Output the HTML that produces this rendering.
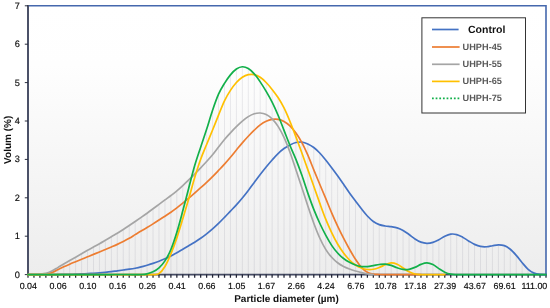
<!DOCTYPE html>
<html><head><meta charset="utf-8"><title>Particle size distribution</title>
<style>
html,body{margin:0;padding:0;background:#fff;}
body{width:550px;height:308px;overflow:hidden;}
svg{display:block;font-family:"Liberation Sans",Arial,sans-serif;text-rendering:geometricPrecision;}
.tk{font-size:8.9px;fill:#0a0a0a;stroke:#0a0a0a;stroke-width:0.15px;}
.lg{font-size:9.2px;font-weight:bold;fill:#595959;}
.ttl{font-size:10px;font-weight:bold;fill:#111;}
</style></head><body>
<svg width="550" height="308" viewBox="0 0 550 308">
<defs><linearGradient id="bg" x1="0" y1="0" x2="0" y2="1"><stop offset="0" stop-color="#ffffff"/><stop offset="0.22" stop-color="#fefefe"/><stop offset="1" stop-color="#ededed"/></linearGradient></defs>
<rect x="0" y="0" width="550" height="308" fill="#ffffff"/>
<rect x="28.0" y="5.8" width="518.0" height="268.8" fill="url(#bg)"/>
<path d="M45.86,273.34V274.60M51.82,271.02V274.60M57.77,267.62V274.60M63.72,264.03V274.60M69.68,260.59V274.60M75.63,257.18V274.60M81.59,253.71V274.60M87.54,250.31V274.60M93.49,247.01V274.60M99.45,243.68V274.60M105.40,240.19V274.60M111.36,236.65V274.60M117.31,233.15V274.60M123.26,229.42V274.60M129.22,225.50V274.60M135.17,221.50V274.60M141.13,217.41V274.60M147.08,213.19V274.60M153.03,208.79V274.60M158.99,204.32V274.60M164.94,199.91V274.60M170.90,195.52V274.60M176.85,190.84V274.60M182.80,185.53V274.60M188.76,179.92V274.60M194.71,165.58V274.60M200.67,147.16V274.60M206.62,129.28V274.60M212.57,110.26V274.60M218.53,94.17V274.60M224.48,83.40V274.60M230.44,74.91V274.60M236.39,69.07V274.60M242.34,66.76V274.60M248.30,68.54V274.60M254.25,73.86V274.60M260.21,77.33V274.60M266.16,82.50V274.60M272.11,89.41V274.60M278.07,97.58V274.60M284.02,107.96V274.60M289.98,121.48V274.60M295.93,133.10V274.60M301.89,142.08V274.60M307.84,143.90V274.60M313.79,147.48V274.60M319.75,152.99V274.60M325.70,159.98V274.60M331.66,167.69V274.60M337.61,175.77V274.60M343.56,184.34V274.60M349.52,193.07V274.60M355.47,200.97V274.60M361.43,208.78V274.60M367.38,215.98V274.60M373.33,221.45V274.60M379.29,224.65V274.60M385.24,226.02V274.60M391.20,226.69V274.60M397.15,227.86V274.60M403.10,230.46V274.60M409.06,234.53V274.60M415.01,238.95V274.60M420.97,242.15V274.60M426.92,243.29V274.60M432.87,242.38V274.60M438.83,239.69V274.60M444.78,236.21V274.60M450.74,234.14V274.60M456.69,234.56V274.60M462.64,237.19V274.60M468.60,240.90V274.60M474.55,244.36V274.60M480.51,246.45V274.60M486.46,246.76V274.60M492.41,245.77V274.60M498.37,244.84V274.60M504.32,245.67V274.60M510.28,249.25V274.60M516.23,255.34V274.60M522.18,262.71V274.60M528.14,269.27V274.60M534.09,273.13V274.60" stroke="#50506a" stroke-opacity="0.11" stroke-width="1" fill="none"/>
<path d="M27.0,5.8H546.0V274.6" stroke="#4568ad" stroke-width="1.6" fill="none"/>
<path d="M28.0,5.0V275.5" stroke="#4b5168" stroke-width="2" fill="none"/>
<path d="M27.0,274.6H546.8" stroke="#454b63" stroke-width="1.8" fill="none"/>
<path d="M28.00,274.6v3.2M33.95,274.6v3.2M39.91,274.6v3.2M45.86,274.6v3.2M51.82,274.6v3.2M57.77,274.6v3.2M63.72,274.6v3.2M69.68,274.6v3.2M75.63,274.6v3.2M81.59,274.6v3.2M87.54,274.6v3.2M93.49,274.6v3.2M99.45,274.6v3.2M105.40,274.6v3.2M111.36,274.6v3.2M117.31,274.6v3.2M123.26,274.6v3.2M129.22,274.6v3.2M135.17,274.6v3.2M141.13,274.6v3.2M147.08,274.6v3.2M153.03,274.6v3.2M158.99,274.6v3.2M164.94,274.6v3.2M170.90,274.6v3.2M176.85,274.6v3.2M182.80,274.6v3.2M188.76,274.6v3.2M194.71,274.6v3.2M200.67,274.6v3.2M206.62,274.6v3.2M212.57,274.6v3.2M218.53,274.6v3.2M224.48,274.6v3.2M230.44,274.6v3.2M236.39,274.6v3.2M242.34,274.6v3.2M248.30,274.6v3.2M254.25,274.6v3.2M260.21,274.6v3.2M266.16,274.6v3.2M272.11,274.6v3.2M278.07,274.6v3.2M284.02,274.6v3.2M289.98,274.6v3.2M295.93,274.6v3.2M301.89,274.6v3.2M307.84,274.6v3.2M313.79,274.6v3.2M319.75,274.6v3.2M325.70,274.6v3.2M331.66,274.6v3.2M337.61,274.6v3.2M343.56,274.6v3.2M349.52,274.6v3.2M355.47,274.6v3.2M361.43,274.6v3.2M367.38,274.6v3.2M373.33,274.6v3.2M379.29,274.6v3.2M385.24,274.6v3.2M391.20,274.6v3.2M397.15,274.6v3.2M403.10,274.6v3.2M409.06,274.6v3.2M415.01,274.6v3.2M420.97,274.6v3.2M426.92,274.6v3.2M432.87,274.6v3.2M438.83,274.6v3.2M444.78,274.6v3.2M450.74,274.6v3.2M456.69,274.6v3.2M462.64,274.6v3.2M468.60,274.6v3.2M474.55,274.6v3.2M480.51,274.6v3.2M486.46,274.6v3.2M492.41,274.6v3.2M498.37,274.6v3.2M504.32,274.6v3.2M510.28,274.6v3.2M516.23,274.6v3.2M522.18,274.6v3.2M528.14,274.6v3.2M534.09,274.6v3.2M540.05,274.6v3.2M546.00,274.6v3.2" stroke="#1f2233" stroke-width="1.25" fill="none"/>
<path d="M24.8,274.60h3.2M24.8,236.20h3.2M24.8,197.80h3.2M24.8,159.40h3.2M24.8,121.00h3.2M24.8,82.60h3.2M24.8,44.20h3.2M24.8,5.80h3.2" stroke="#2b2f3f" stroke-width="1" fill="none"/>
<path d="M28.00,274.60C28.99,274.60 31.97,274.60 33.95,274.60C35.94,274.60 37.92,274.60 39.91,274.60C41.89,274.60 43.88,274.60 45.86,274.60C47.85,274.60 49.83,274.60 51.82,274.60C53.80,274.60 55.79,274.60 57.77,274.57C59.75,274.54 61.74,274.47 63.72,274.42C65.71,274.38 67.69,274.35 69.68,274.31C71.66,274.26 73.65,274.24 75.63,274.18C77.62,274.11 79.60,274.01 81.59,273.91C83.57,273.82 85.56,273.70 87.54,273.59C89.52,273.49 91.51,273.39 93.49,273.27C95.48,273.15 97.46,273.03 99.45,272.87C101.43,272.72 103.42,272.53 105.40,272.33C107.39,272.13 109.37,271.91 111.36,271.66C113.34,271.41 115.33,271.10 117.31,270.83C119.30,270.55 121.28,270.28 123.26,270.01C125.25,269.73 127.23,269.49 129.22,269.19C131.20,268.89 133.19,268.59 135.17,268.22C137.16,267.85 139.14,267.44 141.13,266.95C143.11,266.45 145.10,265.84 147.08,265.25C149.07,264.65 151.05,264.05 153.03,263.39C155.02,262.73 157.00,262.05 158.99,261.29C160.97,260.53 162.96,259.69 164.94,258.81C166.93,257.93 168.91,256.99 170.90,255.99C172.88,254.99 174.87,253.90 176.85,252.79C178.84,251.68 180.82,250.48 182.80,249.32C184.79,248.16 186.77,246.99 188.76,245.81C190.74,244.62 192.73,243.46 194.71,242.21C196.70,240.95 198.68,239.67 200.67,238.27C202.65,236.88 204.64,235.39 206.62,233.82C208.61,232.26 210.59,230.62 212.57,228.88C214.56,227.15 216.54,225.32 218.53,223.40C220.51,221.48 222.50,219.41 224.48,217.36C226.47,215.32 228.45,213.19 230.44,211.11C232.42,209.04 234.41,207.08 236.39,204.90C238.38,202.72 240.36,200.43 242.34,198.03C244.33,195.62 246.31,193.06 248.30,190.47C250.28,187.89 252.27,185.16 254.25,182.50C256.24,179.84 258.22,177.11 260.21,174.53C262.19,171.94 264.18,169.43 266.16,167.00C268.15,164.57 270.13,162.19 272.11,159.95C274.10,157.71 276.08,155.46 278.07,153.55C280.05,151.65 282.04,149.96 284.02,148.53C286.01,147.09 287.99,145.92 289.98,144.92C291.96,143.92 293.95,143.00 295.93,142.53C297.92,142.05 299.90,141.85 301.89,142.08C303.87,142.31 305.85,143.00 307.84,143.90C309.82,144.80 311.81,145.97 313.79,147.48C315.78,149.00 317.76,150.91 319.75,152.99C321.73,155.08 323.72,157.53 325.70,159.98C327.69,162.43 329.67,165.06 331.66,167.69C333.64,170.32 335.62,173.00 337.61,175.77C339.59,178.55 341.58,181.46 343.56,184.34C345.55,187.22 347.53,190.30 349.52,193.07C351.50,195.85 353.49,198.36 355.47,200.97C357.46,203.59 359.44,206.28 361.43,208.78C363.41,211.28 365.39,213.87 367.38,215.98C369.36,218.10 371.35,220.00 373.33,221.45C375.32,222.89 377.30,223.89 379.29,224.65C381.27,225.41 383.26,225.68 385.24,226.02C387.23,226.36 389.21,226.39 391.20,226.69C393.18,227.00 395.16,227.23 397.15,227.86C399.13,228.48 401.12,229.34 403.10,230.46C405.09,231.57 407.07,233.11 409.06,234.53C411.04,235.95 413.03,237.68 415.01,238.95C417.00,240.22 418.98,241.43 420.97,242.15C422.95,242.88 424.93,243.25 426.92,243.29C428.90,243.33 430.89,242.99 432.87,242.38C434.86,241.78 436.84,240.72 438.83,239.69C440.81,238.66 442.80,237.13 444.78,236.21C446.77,235.28 448.75,234.42 450.74,234.14C452.72,233.87 454.70,234.05 456.69,234.56C458.67,235.07 460.66,236.14 462.64,237.19C464.63,238.25 466.61,239.71 468.60,240.90C470.58,242.09 472.57,243.43 474.55,244.36C476.54,245.28 478.52,246.05 480.51,246.45C482.49,246.85 484.48,246.87 486.46,246.76C488.44,246.65 490.43,246.09 492.41,245.77C494.40,245.45 496.38,244.86 498.37,244.84C500.35,244.82 502.34,244.93 504.32,245.67C506.31,246.40 508.29,247.63 510.28,249.25C512.26,250.86 514.25,253.10 516.23,255.34C518.21,257.59 520.20,260.39 522.18,262.71C524.17,265.03 526.15,267.53 528.14,269.27C530.12,271.01 532.11,272.27 534.09,273.13C536.08,273.99 538.06,274.20 540.05,274.44C542.03,274.69 545.01,274.57 546.00,274.60" stroke="#4472C4" stroke-width="1.7" fill="none" stroke-linejoin="round" stroke-linecap="round"/>
<path d="M28.00,274.60C28.99,274.60 31.97,274.60 33.95,274.60C35.94,274.60 37.92,274.66 39.91,274.60C41.89,274.54 43.88,274.58 45.86,274.23C47.85,273.89 49.83,273.30 51.82,272.55C53.80,271.80 55.79,270.70 57.77,269.75C59.75,268.79 61.74,267.75 63.72,266.83C65.71,265.90 67.69,265.04 69.68,264.19C71.66,263.34 73.65,262.53 75.63,261.71C77.62,260.89 79.60,260.10 81.59,259.28C83.57,258.46 85.56,257.63 87.54,256.82C89.52,256.00 91.51,255.20 93.49,254.40C95.48,253.60 97.46,252.80 99.45,251.99C101.43,251.17 103.42,250.34 105.40,249.51C107.39,248.68 109.37,247.86 111.36,247.01C113.34,246.15 115.33,245.30 117.31,244.38C119.30,243.47 121.28,242.54 123.26,241.53C125.25,240.52 127.23,239.47 129.22,238.33C131.20,237.18 133.19,235.87 135.17,234.65C137.16,233.43 139.14,232.20 141.13,231.01C143.11,229.81 145.10,228.69 147.08,227.50C149.07,226.31 151.05,225.11 153.03,223.87C155.02,222.63 157.00,221.32 158.99,220.04C160.97,218.76 162.96,217.50 164.94,216.19C166.93,214.89 168.91,213.58 170.90,212.18C172.88,210.78 174.87,209.32 176.85,207.82C178.84,206.32 180.82,204.78 182.80,203.18C184.79,201.58 186.77,199.90 188.76,198.21C190.74,196.51 192.73,194.75 194.71,193.00C196.70,191.25 198.68,189.50 200.67,187.73C202.65,185.96 204.64,184.23 206.62,182.37C208.61,180.51 210.59,178.57 212.57,176.58C214.56,174.60 216.54,172.53 218.53,170.46C220.51,168.38 222.50,166.34 224.48,164.15C226.47,161.95 228.45,159.65 230.44,157.29C232.42,154.93 234.41,152.40 236.39,149.99C238.38,147.59 240.36,145.13 242.34,142.84C244.33,140.56 246.31,138.39 248.30,136.29C250.28,134.19 252.27,132.13 254.25,130.23C256.24,128.33 258.22,126.37 260.21,124.87C262.19,123.37 264.18,122.13 266.16,121.22C268.15,120.31 270.13,119.74 272.11,119.43C274.10,119.12 276.08,119.04 278.07,119.37C280.05,119.70 282.04,120.32 284.02,121.41C286.01,122.49 287.99,123.92 289.98,125.87C291.96,127.82 293.95,130.32 295.93,133.10C297.92,135.88 299.90,138.88 301.89,142.55C303.87,146.23 305.85,150.58 307.84,155.13C309.82,159.68 311.81,165.02 313.79,169.87C315.78,174.72 317.76,179.46 319.75,184.22C321.73,188.98 323.72,193.68 325.70,198.45C327.69,203.22 329.67,208.23 331.66,212.84C333.64,217.44 335.62,221.85 337.61,226.07C339.59,230.29 341.58,234.30 343.56,238.16C345.55,242.03 347.53,245.75 349.52,249.27C351.50,252.79 353.49,256.29 355.47,259.30C357.46,262.31 359.44,265.20 361.43,267.36C363.41,269.52 365.39,271.15 367.38,272.27C369.36,273.39 371.35,273.71 373.33,274.08C375.32,274.46 377.30,274.43 379.29,274.52C381.27,274.61 383.26,274.59 385.24,274.60C387.23,274.61 389.21,274.60 391.20,274.60C393.18,274.60 395.16,274.60 397.15,274.60C399.13,274.60 401.12,274.60 403.10,274.60C405.09,274.60 407.07,274.60 409.06,274.60C411.04,274.60 413.03,274.60 415.01,274.60C417.00,274.60 419.97,274.60 420.97,274.60" stroke="#ED7D31" stroke-width="1.7" fill="none" stroke-linejoin="round" stroke-linecap="round"/>
<path d="M28.00,274.60C28.99,274.58 31.97,274.54 33.95,274.46C35.94,274.38 37.92,274.31 39.91,274.12C41.89,273.94 43.88,273.86 45.86,273.34C47.85,272.82 49.83,271.97 51.82,271.02C53.80,270.07 55.79,268.78 57.77,267.62C59.75,266.45 61.74,265.20 63.72,264.03C65.71,262.86 67.69,261.74 69.68,260.59C71.66,259.45 73.65,258.33 75.63,257.18C77.62,256.04 79.60,254.86 81.59,253.71C83.57,252.56 85.56,251.42 87.54,250.31C89.52,249.19 91.51,248.11 93.49,247.01C95.48,245.90 97.46,244.82 99.45,243.68C101.43,242.55 103.42,241.36 105.40,240.19C107.39,239.02 109.37,237.82 111.36,236.65C113.34,235.47 115.33,234.36 117.31,233.15C119.30,231.95 121.28,230.69 123.26,229.42C125.25,228.14 127.23,226.82 129.22,225.50C131.20,224.18 133.19,222.85 135.17,221.50C137.16,220.15 139.14,218.79 141.13,217.41C143.11,216.02 145.10,214.62 147.08,213.19C149.07,211.75 151.05,210.27 153.03,208.79C155.02,207.32 157.00,205.80 158.99,204.32C160.97,202.83 162.96,201.37 164.94,199.91C166.93,198.44 168.91,197.03 170.90,195.52C172.88,194.01 174.87,192.50 176.85,190.84C178.84,189.17 180.82,187.35 182.80,185.53C184.79,183.71 186.77,181.83 188.76,179.92C190.74,178.00 192.73,176.08 194.71,174.06C196.70,172.05 198.68,169.93 200.67,167.83C202.65,165.72 204.64,163.64 206.62,161.45C208.61,159.26 210.59,157.09 212.57,154.68C214.56,152.27 216.54,149.55 218.53,147.01C220.51,144.46 222.50,141.79 224.48,139.42C226.47,137.06 228.45,134.93 230.44,132.80C232.42,130.67 234.41,128.59 236.39,126.65C238.38,124.70 240.36,122.81 242.34,121.14C244.33,119.48 246.31,117.87 248.30,116.64C250.28,115.42 252.27,114.39 254.25,113.79C256.24,113.19 258.22,112.89 260.21,113.02C262.19,113.14 264.18,113.59 266.16,114.55C268.15,115.51 270.13,116.81 272.11,118.78C274.10,120.74 276.08,123.25 278.07,126.35C280.05,129.45 282.04,133.05 284.02,137.36C286.01,141.66 287.99,146.77 289.98,152.17C291.96,157.56 293.95,163.81 295.93,169.73C297.92,175.65 299.90,181.66 301.89,187.70C303.87,193.73 305.85,200.02 307.84,205.94C309.82,211.85 311.81,217.85 313.79,223.19C315.78,228.53 317.76,233.61 319.75,237.98C321.73,242.35 323.72,246.17 325.70,249.39C327.69,252.60 329.67,255.05 331.66,257.28C333.64,259.51 335.62,261.24 337.61,262.77C339.59,264.31 341.58,265.46 343.56,266.50C345.55,267.54 347.53,268.28 349.52,269.03C351.50,269.78 353.49,270.41 355.47,271.01C357.46,271.60 359.44,272.13 361.43,272.60C363.41,273.07 365.39,273.50 367.38,273.82C369.36,274.14 372.34,274.42 373.33,274.54" stroke="#A5A5A5" stroke-width="1.7" fill="none" stroke-linejoin="round" stroke-linecap="round"/>
<path d="M28.00,274.60C28.99,274.60 31.97,274.60 33.95,274.60C35.94,274.60 37.92,274.60 39.91,274.60C41.89,274.60 43.88,274.60 45.86,274.60C47.85,274.60 49.83,274.60 51.82,274.60C53.80,274.60 55.79,274.60 57.77,274.60C59.75,274.60 61.74,274.60 63.72,274.60C65.71,274.60 67.69,274.60 69.68,274.60C71.66,274.60 73.65,274.60 75.63,274.60C77.62,274.60 79.60,274.60 81.59,274.60C83.57,274.60 85.56,274.60 87.54,274.60C89.52,274.60 91.51,274.60 93.49,274.60C95.48,274.60 97.46,274.60 99.45,274.60C101.43,274.60 103.42,274.60 105.40,274.60C107.39,274.60 109.37,274.60 111.36,274.60C113.34,274.60 115.33,274.60 117.31,274.60C119.30,274.60 121.28,274.60 123.26,274.60C125.25,274.60 127.23,274.60 129.22,274.60C131.20,274.60 133.19,274.60 135.17,274.60C137.16,274.60 139.14,274.60 141.13,274.60C143.11,274.60 145.10,274.60 147.08,274.60C149.07,274.60 151.05,274.76 153.03,274.60C155.02,274.44 157.00,274.97 158.99,273.62C160.97,272.27 162.96,269.78 164.94,266.49C166.93,263.20 168.91,258.66 170.90,253.89C172.88,249.13 174.87,243.74 176.85,237.89C178.84,232.04 180.82,225.32 182.80,218.78C184.79,212.25 186.77,205.53 188.76,198.66C190.74,191.79 192.73,184.10 194.71,177.53C196.70,170.97 198.68,164.76 200.67,159.25C202.65,153.75 204.64,149.37 206.62,144.50C208.61,139.63 210.59,134.94 212.57,130.03C214.56,125.13 216.54,119.96 218.53,115.08C220.51,110.21 222.50,104.91 224.48,100.79C226.47,96.66 228.45,93.39 230.44,90.34C232.42,87.29 234.41,84.66 236.39,82.47C238.38,80.29 240.36,78.53 242.34,77.22C244.33,75.91 246.31,75.06 248.30,74.62C250.28,74.19 252.27,74.16 254.25,74.61C256.24,75.06 258.22,76.01 260.21,77.33C262.19,78.64 264.18,80.49 266.16,82.50C268.15,84.51 270.13,86.90 272.11,89.41C274.10,91.93 276.08,94.49 278.07,97.58C280.05,100.67 282.04,103.98 284.02,107.96C286.01,111.94 287.99,116.65 289.98,121.48C291.96,126.31 293.95,131.66 295.93,136.92C297.92,142.19 299.90,147.61 301.89,153.06C303.87,158.51 305.85,164.09 307.84,169.63C309.82,175.16 311.81,180.67 313.79,186.26C315.78,191.84 317.76,197.66 319.75,203.14C321.73,208.63 323.72,214.28 325.70,219.18C327.69,224.08 329.67,228.42 331.66,232.56C333.64,236.70 335.62,240.60 337.61,244.02C339.59,247.44 341.58,250.42 343.56,253.08C345.55,255.74 347.53,258.01 349.52,259.99C351.50,261.97 353.49,263.63 355.47,264.97C357.46,266.32 359.44,267.28 361.43,268.04C363.41,268.79 365.39,269.28 367.38,269.48C369.36,269.69 371.35,269.60 373.33,269.26C375.32,268.93 377.30,268.23 379.29,267.48C381.27,266.73 383.26,265.54 385.24,264.79C387.23,264.03 389.21,263.04 391.20,262.96C393.18,262.88 395.16,263.46 397.15,264.31C399.13,265.15 401.12,266.77 403.10,268.03C405.09,269.28 407.07,270.86 409.06,271.85C411.04,272.84 413.03,273.53 415.01,273.99C417.00,274.45 418.98,274.50 420.97,274.60C422.95,274.70 424.93,274.60 426.92,274.60C428.90,274.60 430.89,274.60 432.87,274.60C434.86,274.60 436.84,274.60 438.83,274.60C440.81,274.60 443.79,274.60 444.78,274.60" stroke="#FFC000" stroke-width="1.7" fill="none" stroke-linejoin="round" stroke-linecap="round"/>
<path d="M28.00,274.60C28.99,274.60 31.97,274.60 33.95,274.60C35.94,274.59 37.92,274.59 39.91,274.59C41.89,274.59 43.88,274.59 45.86,274.58C47.85,274.58 49.83,274.58 51.82,274.58C53.80,274.58 55.79,274.58 57.77,274.57C59.75,274.57 61.74,274.57 63.72,274.57C65.71,274.57 67.69,274.56 69.68,274.56C71.66,274.56 73.65,274.56 75.63,274.56C77.62,274.56 79.60,274.55 81.59,274.55C83.57,274.55 85.56,274.55 87.54,274.55C89.52,274.55 91.51,274.54 93.49,274.54C95.48,274.54 97.46,274.54 99.45,274.54C101.43,274.54 103.42,274.53 105.40,274.53C107.39,274.53 109.37,274.53 111.36,274.53C113.34,274.52 115.33,274.52 117.31,274.52C119.30,274.52 121.28,274.52 123.26,274.52C125.25,274.51 127.23,274.51 129.22,274.51C131.20,274.51 133.19,274.54 135.17,274.54C137.16,274.54 139.14,274.62 141.13,274.50C143.11,274.37 145.10,274.24 147.08,273.80C149.07,273.36 151.05,272.82 153.03,271.84C155.02,270.85 157.00,269.70 158.99,267.87C160.97,266.05 162.96,263.93 164.94,260.87C166.93,257.81 168.91,254.28 170.90,249.53C172.88,244.77 174.87,238.77 176.85,232.32C178.84,225.87 180.82,218.22 182.80,210.83C184.79,203.45 186.77,195.54 188.76,188.00C190.74,180.45 192.73,172.39 194.71,165.58C196.70,158.78 198.68,153.21 200.67,147.16C202.65,141.11 204.64,135.43 206.62,129.28C208.61,123.13 210.59,116.11 212.57,110.26C214.56,104.41 216.54,98.64 218.53,94.17C220.51,89.69 222.50,86.61 224.48,83.40C226.47,80.19 228.45,77.29 230.44,74.91C232.42,72.52 234.41,70.43 236.39,69.07C238.38,67.71 240.36,66.85 242.34,66.76C244.33,66.67 246.31,67.36 248.30,68.54C250.28,69.73 252.27,71.64 254.25,73.86C256.24,76.08 258.22,78.94 260.21,81.86C262.19,84.78 264.18,88.00 266.16,91.38C268.15,94.76 270.13,98.16 272.11,102.13C274.10,106.11 276.08,110.51 278.07,115.23C280.05,119.94 282.04,125.35 284.02,130.40C286.01,135.45 287.99,140.70 289.98,145.53C291.96,150.35 293.95,154.40 295.93,159.37C297.92,164.34 299.90,169.71 301.89,175.33C303.87,180.96 305.85,187.43 307.84,193.11C309.82,198.79 311.81,204.37 313.79,209.39C315.78,214.41 317.76,218.96 319.75,223.25C321.73,227.54 323.72,231.46 325.70,235.14C327.69,238.83 329.67,242.37 331.66,245.36C333.64,248.34 335.62,250.85 337.61,253.04C339.59,255.22 341.58,256.94 343.56,258.48C345.55,260.03 347.53,261.24 349.52,262.33C351.50,263.42 353.49,264.32 355.47,265.03C357.46,265.73 359.44,266.28 361.43,266.54C363.41,266.80 365.39,266.73 367.38,266.58C369.36,266.43 371.35,265.98 373.33,265.64C375.32,265.29 377.30,264.78 379.29,264.52C381.27,264.26 383.26,263.91 385.24,264.06C387.23,264.22 389.21,264.81 391.20,265.42C393.18,266.04 395.16,267.09 397.15,267.75C399.13,268.41 401.12,269.12 403.10,269.38C405.09,269.64 407.07,269.68 409.06,269.33C411.04,268.99 413.03,268.14 415.01,267.31C417.00,266.48 418.98,265.10 420.97,264.35C422.95,263.59 424.93,262.78 426.92,262.80C428.90,262.83 430.89,263.52 432.87,264.49C434.86,265.46 436.84,267.32 438.83,268.60C440.81,269.89 442.80,271.28 444.78,272.22C446.77,273.15 448.75,273.80 450.74,274.20C452.72,274.59 454.70,274.53 456.69,274.60C458.67,274.67 460.66,274.60 462.64,274.60C464.63,274.60 466.61,274.60 468.60,274.60C470.58,274.60 472.57,274.60 474.55,274.60C476.54,274.60 478.52,274.60 480.51,274.60C482.49,274.60 484.48,274.60 486.46,274.60C488.44,274.60 490.43,274.60 492.41,274.60C494.40,274.60 496.38,274.60 498.37,274.60C500.35,274.60 502.34,274.60 504.32,274.60C506.31,274.60 508.29,274.60 510.28,274.60C512.26,274.60 514.25,274.60 516.23,274.60C518.21,274.60 520.20,274.60 522.18,274.60C524.17,274.60 526.15,274.60 528.14,274.60C530.12,274.60 532.11,274.60 534.09,274.60C536.08,274.60 538.06,274.60 540.05,274.60C542.03,274.60 545.01,274.60 546.00,274.60" stroke="#12B04A" stroke-width="1.7" fill="none" stroke-linejoin="round" stroke-linecap="round"/>
<text class="tk" style="font-size:9.2px" x="17.4" y="277.50" text-anchor="middle">0</text>
<text class="tk" style="font-size:9.2px" x="17.4" y="239.10" text-anchor="middle">1</text>
<text class="tk" style="font-size:9.2px" x="17.4" y="200.70" text-anchor="middle">2</text>
<text class="tk" style="font-size:9.2px" x="17.4" y="162.30" text-anchor="middle">3</text>
<text class="tk" style="font-size:9.2px" x="17.4" y="123.90" text-anchor="middle">4</text>
<text class="tk" style="font-size:9.2px" x="17.4" y="85.50" text-anchor="middle">5</text>
<text class="tk" style="font-size:9.2px" x="17.4" y="47.10" text-anchor="middle">6</text>
<text class="tk" style="font-size:9.2px" x="17.4" y="8.70" text-anchor="middle">7</text>
<text class="tk" x="28.30" y="289" text-anchor="middle">0.04</text>
<text class="tk" x="58.07" y="289" text-anchor="middle">0.06</text>
<text class="tk" x="87.84" y="289" text-anchor="middle">0.10</text>
<text class="tk" x="117.61" y="289" text-anchor="middle">0.16</text>
<text class="tk" x="147.38" y="289" text-anchor="middle">0.26</text>
<text class="tk" x="177.15" y="289" text-anchor="middle">0.41</text>
<text class="tk" x="206.92" y="289" text-anchor="middle">0.66</text>
<text class="tk" x="236.69" y="289" text-anchor="middle">1.05</text>
<text class="tk" x="266.46" y="289" text-anchor="middle">1.67</text>
<text class="tk" x="296.23" y="289" text-anchor="middle">2.66</text>
<text class="tk" x="326.00" y="289" text-anchor="middle">4.24</text>
<text class="tk" x="355.77" y="289" text-anchor="middle">6.76</text>
<text class="tk" x="385.54" y="289" text-anchor="middle">10.78</text>
<text class="tk" x="415.31" y="289" text-anchor="middle">17.18</text>
<text class="tk" x="445.08" y="289" text-anchor="middle">27.39</text>
<text class="tk" x="474.85" y="289" text-anchor="middle">43.67</text>
<text class="tk" x="504.62" y="289" text-anchor="middle">69.61</text>
<text class="tk" x="534.39" y="289" text-anchor="middle">111.00</text>
<text class="ttl" x="286.5" y="302.2" text-anchor="middle">Particle diameter (µm)</text>
<text class="ttl" transform="translate(10.7,139.8) rotate(-90)" text-anchor="middle">Volum (%)</text>
<rect x="421.9" y="17.8" width="103.6" height="95.2" fill="#ffffff" stroke="#333333" stroke-width="1"/>
<path d="M432,29.5H458.6" stroke="#4472C4" stroke-width="1.7"/>
<text x="468" y="32.7" style="font-size:10.5px;font-weight:bold;fill:#111">Control</text>
<path d="M432,47H459.6" stroke="#ED7D31" stroke-width="1.7"/>
<text class="lg" x="462.6" y="49.9">UHPH-45</text>
<path d="M432,64.3H459.6" stroke="#A5A5A5" stroke-width="1.7"/>
<text class="lg" x="462.6" y="67.2">UHPH-55</text>
<path d="M432,81.4H459.6" stroke="#FFC000" stroke-width="1.7"/>
<text class="lg" x="462.6" y="84.30000000000001">UHPH-65</text>
<path d="M432,98.4H459.6" stroke="#12B04A" stroke-width="1.8" stroke-dasharray="1.75,1.9"/>
<text class="lg" x="462.6" y="101.30000000000001">UHPH-75</text>
</svg></body></html>
